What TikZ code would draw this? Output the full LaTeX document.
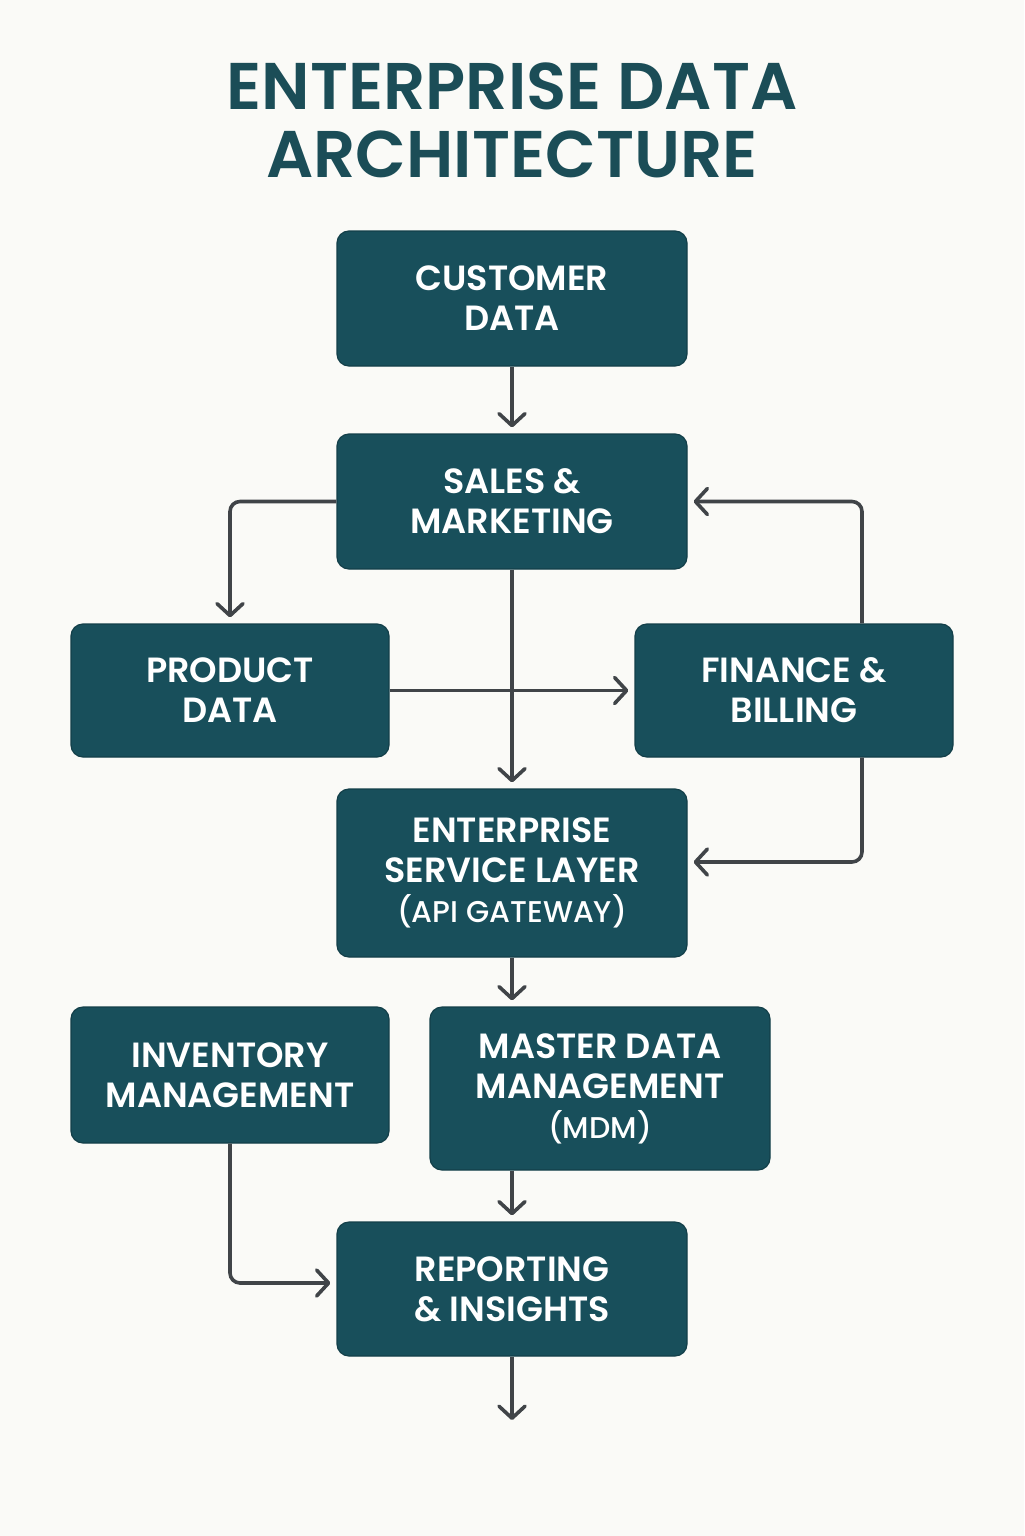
\documentclass[tikz,border=0pt]{standalone}
\usepackage{fontspec}
\setmainfont{Poppins}[BoldFont={Poppins SemiBold}]
\newfontfamily\mediumfont{Poppins Medium}
\usetikzlibrary{arrows.meta}
\definecolor{bgpaper}{HTML}{FAFAF7}
\definecolor{tealbox}{HTML}{184F5B}
\definecolor{titleteal}{HTML}{1B4D57}
\definecolor{linkgray}{HTML}{404448}

\begin{document}
\begin{tikzpicture}[x=0.5pt,y=-0.5pt,
	databox/.style={draw=tealbox!80!black,line width=0.6pt,fill=tealbox,rounded corners=6pt,text=white,align=center,font=\fontsize{17.5}{20}\selectfont\bfseries,inner sep=0pt},
	wide/.style={databox,minimum width=175pt},
	side/.style={databox,minimum width=159pt},
	link/.style={draw=linkgray,line width=1.8pt,rounded corners=5pt,-{Straight Barb[length=6pt,width=13pt,line cap=round,line join=round]},shorten >=3pt}]
	\fill[bgpaper] (0,0) rectangle (1024,1536);
	\useasboundingbox (0,0) rectangle (1024,1536);
	\node[text=titleteal,align=center,font=\fontsize{33}{34}\selectfont\bfseries] (title) at (512,120) {ENTERPRISE DATA\\ARCHITECTURE};
	\node[wide,minimum height=67.5pt] (customer) at (512,298.5) {CUSTOMER\\DATA};
	\node[wide,minimum height=67.5pt] (sales) at (512,501.5) {SALES \&\\MARKETING};
	\node[side,minimum height=66.5pt] (product) at (230,690.5) {PRODUCT\\DATA};
	\node[side,minimum height=66.5pt] (finance) at (794,690.5) {FINANCE \&\\BILLING};
	\node[wide,minimum height=84pt] (esl) at (512,873) {ENTERPRISE\\SERVICE LAYER\\{\mediumfont\mdseries\fontsize{15}{20}\selectfont (API GATEWAY)}};
	\node[side,minimum height=68pt] (inventory) at (230,1075) {INVENTORY\\MANAGEMENT};
	\node[databox,minimum width=170pt,minimum height=81.5pt] (mdm) at (600,1088.5) {MASTER DATA\\MANAGEMENT\\{\mediumfont\mdseries\fontsize{15}{20}\selectfont (MDM)}};
	\node[wide,minimum height=67pt] (reporting) at (512,1289) {REPORTING\\\& INSIGHTS};
	\coordinate (out) at (512,1420);
	\draw[link] (customer) -- (sales);
	\draw[link] (sales.west) -| (product.north);
	\draw[link] (sales) -- (esl);
	\draw[link] (product) -- (finance);
	\draw[link] (finance.north -| 862,0) |- (sales.east);
	\draw[link] (finance.south -| 862,0) |- (esl.east |- 0,862);
	\draw[link] (esl.south) -- (mdm.north -| esl.south);
	\draw[link] (mdm.south -| esl.south) -- (reporting.north);
	\draw[link] (inventory.south) |- (reporting.west |- 0,1283);
	\draw[link,shorten >=0pt] (reporting) -- (out);
\end{tikzpicture}
\end{document}
